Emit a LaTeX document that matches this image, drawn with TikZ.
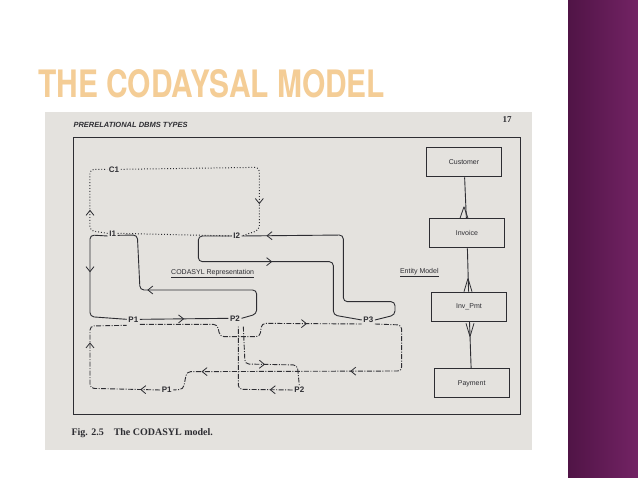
\documentclass[tikz,border=0pt]{standalone}
\usepackage{fontspec}
\setmainfont{Liberation Serif}
\newfontfamily\titlefont{TeX Gyre Heros}
\newfontfamily\labfont{Liberation Sans}
\usetikzlibrary{decorations.markings,arrows.meta}
\definecolor{photobg}{RGB}{228,226,222}
\definecolor{ink}{RGB}{45,45,50}
\definecolor{purpA}{RGB}{80,20,70}
\definecolor{purpB}{RGB}{115,35,100}
\definecolor{ttl}{RGB}{244,205,150}
\tikzset{
  ln/.style={draw=ink,line width=0.9pt,rounded corners=4pt},
  dotln/.style={ln,dotted,line width=1pt},
  dashdot/.style={ln,dash pattern=on 5pt off 1.5pt on 1pt off 1.5pt},
  arr/.style={postaction={decorate,decoration={markings,mark=at position #1 with {\arrow[ink,line width=0.8pt]{Straight Barb[length=5pt,width=8pt]}}}}},
  lab/.style={font=\labfont\bfseries\fontsize{8}{9}\selectfont,text=ink,inner sep=1.5pt},
  ent/.style={draw=ink,line width=0.9pt,minimum width=75pt,minimum height=29pt,font=\labfont\fontsize{7}{8}\selectfont,text=ink},
}
\begin{document}
\begin{tikzpicture}[x=1pt,y=-1pt]
\useasboundingbox (0,0) rectangle (638,478);
\fill[white] (0,0) rectangle (638,478);
\shade[left color=purpA,right color=purpB] (568,0) rectangle (638,478);
\node[anchor=west,inner sep=0pt,text=ttl,font=\titlefont\bfseries] (title) at (38,84)
  {\resizebox{347pt}{28pt}{THE CODAYSAL MODEL}};
\fill[photobg] (45,112) rectangle (532,450);
\node[anchor=west,font=\labfont\bfseries\itshape\fontsize{7.5}{8}\selectfont,text=ink] (hdr) at (70,125) {PRERELATIONAL DBMS TYPES};
\node[font=\bfseries\fontsize{9}{10}\selectfont,text=ink] (pg) at (507,120) {17};
\node[anchor=west,font=\bfseries\fontsize{10}{11}\selectfont,text=ink] (cap) at (68,433) {Fig. 2.5\quad The CODASYL model.};
\draw[ink,line width=1pt] (73,138) rectangle (520,415);
\begin{scope}[xshift=40pt,yshift=-110pt,scale=1/3]
% entity model
\node[ent] (cu) at (1272,157) {Customer};
\node[ent] (in) at (1281,370) {Invoice};
\node[ent] (ip) at (1287,590) {Inv\_Pmt};
\node[ent] (pa) at (1295,820) {Payment};
\draw[ink,line width=0.9pt] (cu) -- (in) (in) -- (ip) (ip) -- (pa);
\draw[ink,line width=0.8pt] (1272,290) -- (1260,325) (1272,290) -- (1284,325);
\draw[ink,line width=0.8pt] (1284,505) -- (1272,545) (1284,505) -- (1296,545);
\draw[ink,line width=0.8pt] (1290,680) -- (1278,640) (1290,680) -- (1302,640);
\node[lab,font=\labfont\fontsize{7}{8}\selectfont] (em) at (1138,487) {\underline{Entity Model}};
\node[lab,font=\labfont\fontsize{7}{8}\selectfont] (cr) at (518,492) {\underline{CODASYL Representation}};
% labels
\node[lab] (c1) at (222,178) {C1};
\node[lab] (i1) at (218,370) {I1};
\node[lab] (i2) at (590,378) {I2};
\node[lab] (p1) at (280,628) {P1};
\node[lab] (p2) at (585,625) {P2};
\node[lab] (p3) at (985,630) {P3};
\node[lab] (q1) at (380,840) {P1};
\node[lab] (q2) at (778,840) {P2};
% dotted C1 set
\draw[dotln,arr=0.4] (i1.west) -- (150,362) -- (150,178) -- (c1.west);
\draw[dotln,arr=0.8] (c1.east) -- (658,172) -- (658,360) -- (i2.east);
\draw[dotln] (i1.east) -- (i2.west);
% solid sets
\draw[ln,arr=0.4] (i1.west) ++(0,8) -- (150,375) -- (150,620) -- (p1.west);
\draw[ln,arr=0.65] (p2.east) -- (650,612) -- (650,540) -- (300,540) -- (292,375) -- ([yshift=-6pt]i1.east);
\draw[ln,arr=0.5] (p1.east) -- (p2.west);
\draw[ln,arr=0.48] (i2.west) -- (475,378) -- (475,455) -- (880,455) -- (880,615) -- (p3.west);
\draw[ln,arr=0.9] (p3.east) -- (1065,615) -- (1065,575) -- (910,575) -- (910,375) -- (i2.east);
% dash-dot sets
\draw[dashdot,arr=0.12,arr=0.69] (q1.west) -- (150,835) -- (150,648) -- ([yshift=-18pt]p1.west);
\draw[dashdot,arr=0.77] (p1.east) ++(0,15) -- (532,643) -- (540,680) -- (660,680) -- (665,640) -- ([yshift=-12pt]p3.west);
\draw[dashdot,arr=0.39,arr=0.87] (p3.east) ++(0,12) -- (1085,645) -- (1085,783) -- (440,785) -- (430,838) -- (q1.east);
\draw[dashdot,arr=0.2] (q2.west) -- (595,838) -- (595,650);
\draw[dashdot,arr=0.52] (610,650) -- (615,762) -- (772,765) -- (q2.north);
\end{scope}
\end{tikzpicture}
\end{document}
